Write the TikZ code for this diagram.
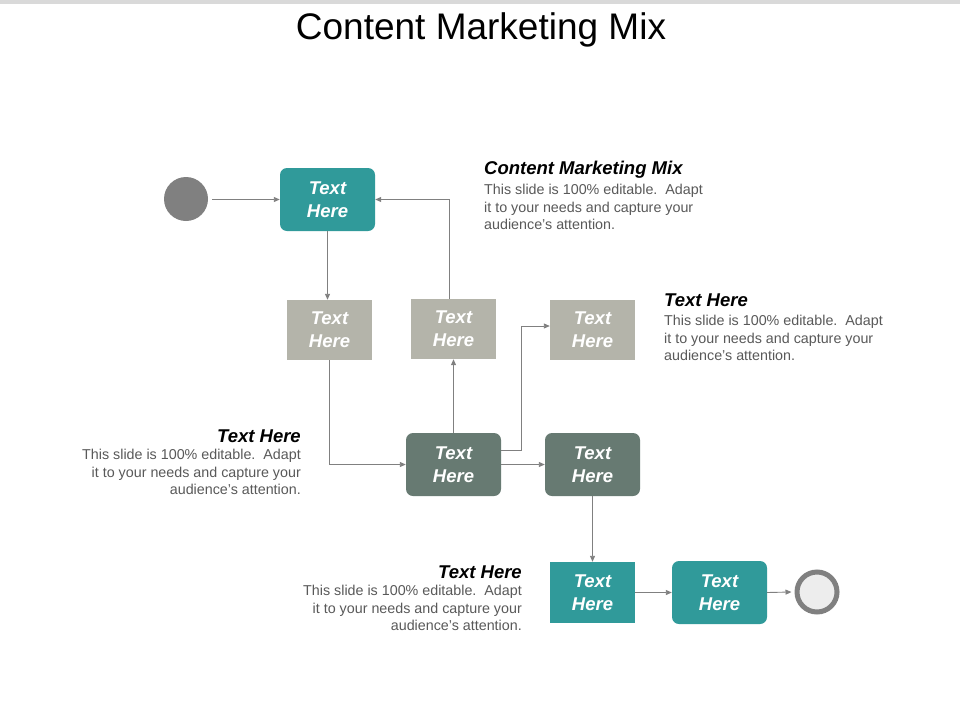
\documentclass[tikz,border=0pt]{standalone}
\usepackage{fontspec}
\setmainfont{Liberation Sans}
\usetikzlibrary{arrows.meta}
\definecolor{teal1}{HTML}{309A9A}
\definecolor{lgray}{HTML}{B4B4AA}
\definecolor{dgray}{HTML}{677A72}
\definecolor{lnc}{HTML}{808080}
\definecolor{bodyc}{HTML}{595959}
\begin{document}
\begin{tikzpicture}[x=1pt,y=-1pt,
  box/.style={minimum width=95pt,minimum height=63pt,inner sep=0pt,align=center,text=white,font=\fontsize{18.5}{23}\selectfont\bfseries\itshape},
  rbox/.style={box,rounded corners=7pt},
  sbox/.style={box,minimum width=85pt,minimum height=60pt},
  conn/.style={draw=lnc,line width=0.9pt,-{Triangle[length=6pt,width=5pt]}},
  head/.style={font=\fontsize{18.5}{20}\selectfont\bfseries\itshape,inner sep=0pt},
  body/.style={text=bodyc,font=\fontsize{14.3}{17.5}\selectfont,inner sep=0pt}]
\useasboundingbox (0,0) rectangle (960,720);
\fill[white] (0,0) rectangle (960,720);
\fill[black!15] (0,0) rectangle (960,4);
\node[font=\fontsize{37}{40}\selectfont] (title) at (481,30) {Content Marketing Mix};
\node[circle,fill=lnc,minimum size=44pt,inner sep=0pt] (s) at (186,199) {};
\node[circle,draw=lnc,line width=5pt,fill=black!7,minimum size=40pt,inner sep=0pt] (e) at (817,592) {};
\node[rbox,fill=teal1] (A) at (327.5,199.5) {Text\\Here};
\node[sbox,fill=lgray] (B) at (329.5,330) {Text\\Here};
\node[sbox,fill=lgray] (C) at (453.5,329) {Text\\Here};
\node[sbox,fill=lgray] (D) at (592.5,330) {Text\\Here};
\node[rbox,fill=dgray] (E) at (453.5,464.5) {Text\\Here};
\node[rbox,fill=dgray] (F) at (592.5,464.5) {Text\\Here};
\node[sbox,fill=teal1,minimum height=61pt] (G) at (592.5,592.5) {Text\\Here};
\node[rbox,fill=teal1] (H) at (719.5,592.5) {Text\\Here};
\draw[conn] ([xshift=4pt]s.east |- A.west) -- (A.west);
\draw[conn] (A.south) -- (B.north -| A.south);
\draw[conn] (B.south) |- (E.west);
\draw[conn] (E.north) -- (C.south);
\draw[conn] (C.north -| 449,0) |- (A.east);
\draw[conn] (E.east |- 0,450) -| (521,326) -- (D.west |- 0,326);
\draw[conn] (E.east) -- (F.west);
\draw[conn] (F.south) -- (G.north);
\draw[conn] (G.east) -- (H.west);
\draw[conn] (H.east) -- ([xshift=-3pt]e.west);
\node[head,anchor=west] (h1) at (484,170) {Content Marketing Mix};
\node[body,anchor=north west,align=left] (b1) at (484,184) {This slide is 100\% editable.\ \ Adapt\\it to your needs and capture your\\audience's attention.};
\node[head,anchor=west] (h2) at (664,300) {Text Here};
\node[body,anchor=north west,align=left] (b2) at (664,315) {This slide is 100\% editable.\ \ Adapt\\it to your needs and capture your\\audience's attention.};
\node[head,anchor=east] (h3) at (301,436) {Text Here};
\node[body,anchor=north east,align=right] (b3) at (301,449) {This slide is 100\% editable.\ \ Adapt\\it to your needs and capture your\\audience's attention.};
\node[head,anchor=east] (h4) at (522,572) {Text Here};
\node[body,anchor=north east,align=right] (b4) at (522,585) {This slide is 100\% editable.\ \ Adapt\\it to your needs and capture your\\audience's attention.};
\end{tikzpicture}
\end{document}
